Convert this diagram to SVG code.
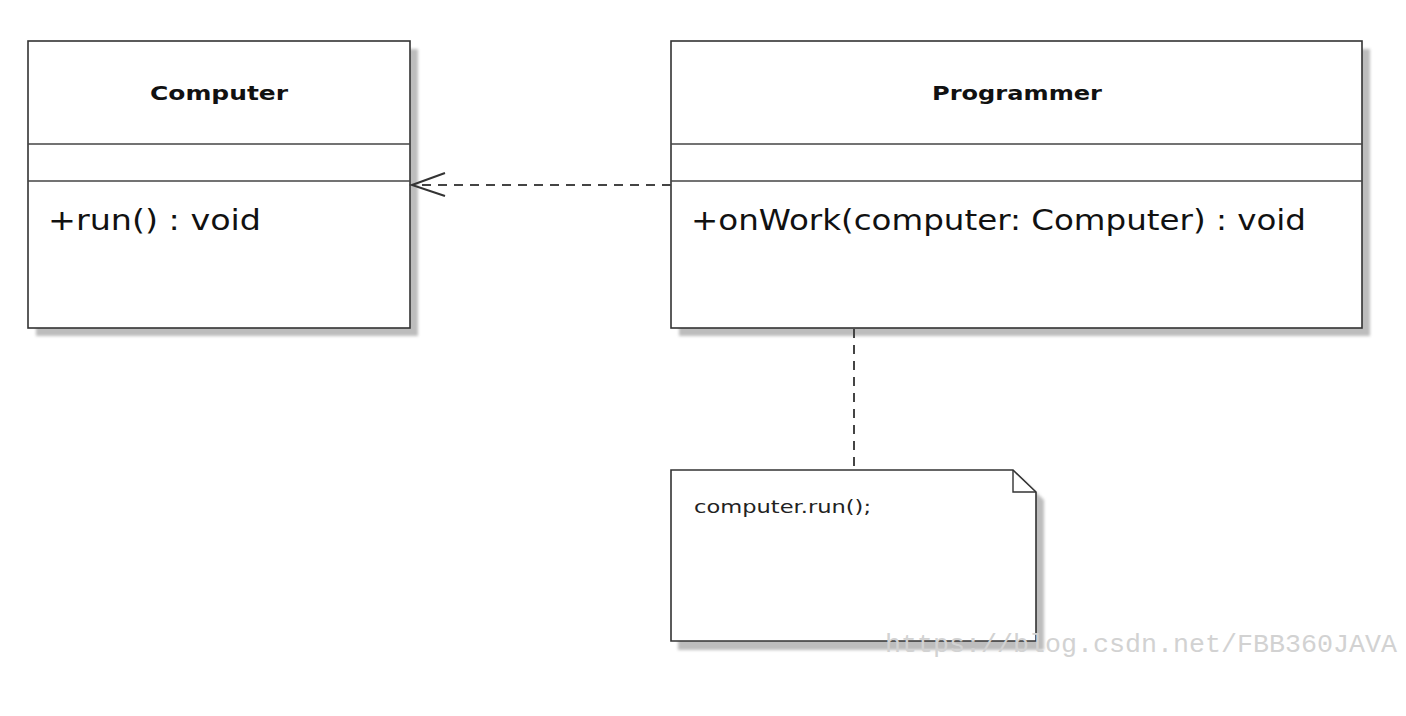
<svg xmlns="http://www.w3.org/2000/svg" width="1406" height="716" viewBox="0 0 1406 716">
<style>
.box{fill:#fff;stroke:#333;stroke-width:1.6}
.sh{fill:#bdbdbd}
.div{stroke:#444;stroke-width:1.4}
.title{font-family:"DejaVu Sans","Liberation Sans",sans-serif;font-weight:bold;font-size:20px;fill:#111;text-anchor:middle}
.op{font-family:"DejaVu Sans","Liberation Sans",sans-serif;font-size:29px;fill:#111}
.note{font-family:"DejaVu Sans","Liberation Sans",sans-serif;font-size:17px;fill:#222}
.dash{fill:none;stroke:#444;stroke-width:2;stroke-dasharray:9,7}
.wm{font-family:"Liberation Mono",monospace;font-size:26.5px;fill:#d2d2d2}
</style>
<defs>
<filter id="blur" x="-5%" y="-5%" width="110%" height="110%"><feGaussianBlur stdDeviation="1.5"/></filter>
</defs>
<rect width="1406" height="716" fill="#fff"/>
<g id="Computer">
<rect class="sh" x="36" y="49" width="382" height="287" filter="url(#blur)"/>
<rect class="box" x="28" y="41" width="382" height="287"/>
<line class="div" x1="28" y1="144" x2="410" y2="144"/>
<line class="div" x1="28" y1="181" x2="410" y2="181"/>
<text class="title" x="219" y="100" textLength="138" lengthAdjust="spacingAndGlyphs">Computer</text>
<text class="op" x="48" y="230" textLength="213" lengthAdjust="spacingAndGlyphs">+run() : void</text>
</g>
<g id="Programmer">
<rect class="sh" x="679" y="49" width="691" height="287" filter="url(#blur)"/>
<rect class="box" x="671" y="41" width="691" height="287"/>
<line class="div" x1="671" y1="144" x2="1362" y2="144"/>
<line class="div" x1="671" y1="181" x2="1362" y2="181"/>
<text class="title" x="1017" y="100" textLength="170" lengthAdjust="spacingAndGlyphs">Programmer</text>
<text class="op" x="691" y="230" textLength="615" lengthAdjust="spacingAndGlyphs">+onWork(computer: Computer) : void</text>
</g>
<g id="Note">
<path class="sh" d="M678 478 H1021 L1044 500 V650 H678 Z" filter="url(#blur)"/>
<path class="box" d="M671 470 H1013 L1036 492 V641 H671 Z"/>
<path d="M1013 470 V492 H1036" fill="none" stroke="#333" stroke-width="1.4"/>
<text class="note" x="694" y="513" textLength="177" lengthAdjust="spacingAndGlyphs">computer.run();</text>
</g>
<g id="connectors">
<line class="dash" x1="671" y1="185" x2="414" y2="185"/>
<path d="M445 173 L412 185 L445 196" fill="none" stroke="#333" stroke-width="2"/>
<line class="dash" x1="854" y1="329" x2="854" y2="470"/>
</g>
<text class="wm" x="885" y="652" textLength="512" lengthAdjust="spacingAndGlyphs">https://blog.csdn.net/FBB360JAVA</text>
</svg>
